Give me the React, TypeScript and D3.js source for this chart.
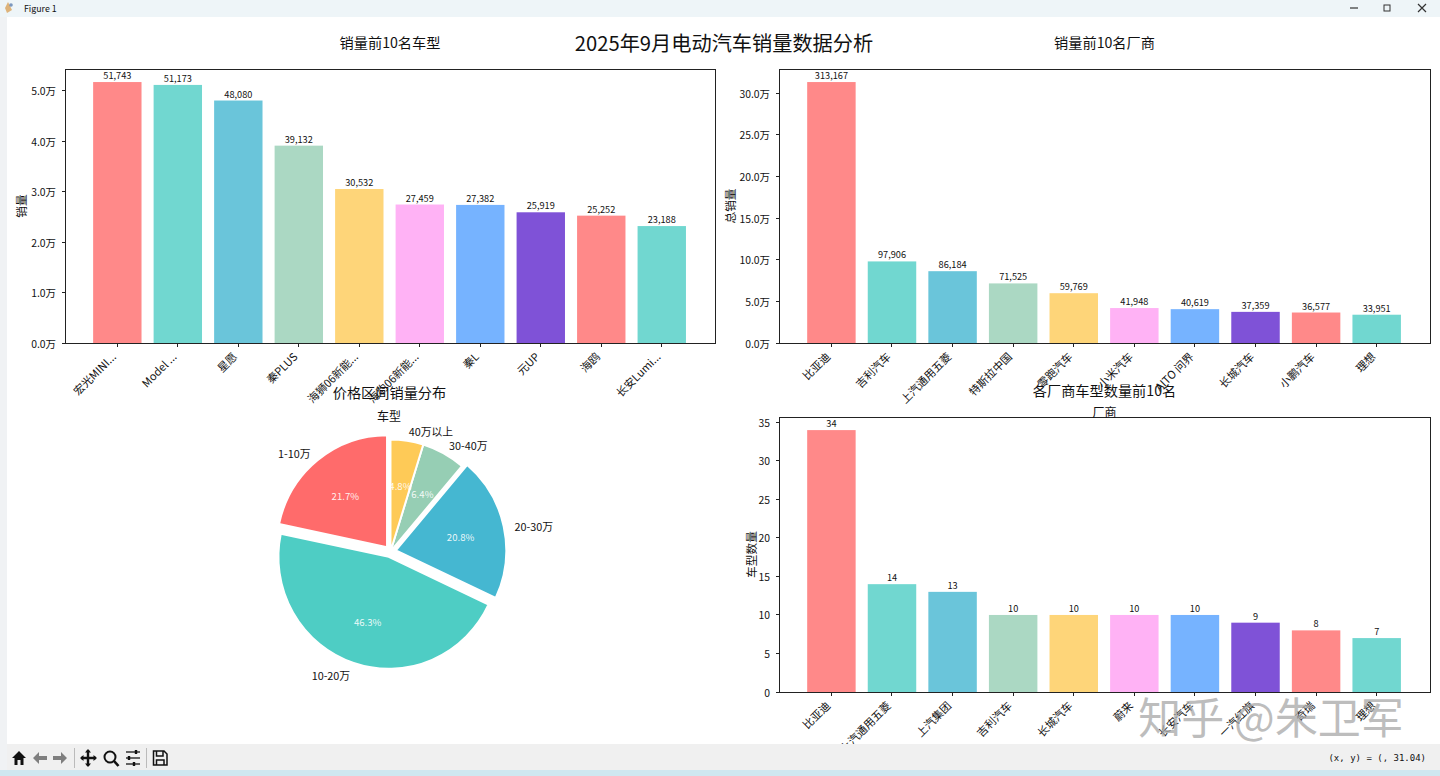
import React from 'react';
import * as d3 from 'd3';

const FONT = '"Noto Sans CJK SC", sans-serif';

// bar colours (alpha 0.8 in the original), the palette repeats after 8 bars
const palette = ['#FF6B6B', '#4ECDC4', '#45B7D1', '#96CEB4', '#FECA57', '#FF9FF3', '#54A0FF', '#5F27CD'];

const modelNames = ['宏光MINI...', 'Model ...', '星愿', '秦PLUS', '海狮06新能...', '海豹06新能...', '秦L', '元UP', '海鸥', '长安Lumi...'];
const modelSales = [51743, 51173, 48080, 39132, 30532, 27459, 27382, 25919, 25252, 23188];
const modelTicks = [0, 10000, 20000, 30000, 40000, 50000];

const makerNames = ['比亚迪', '吉利汽车', '上汽通用五菱', '特斯拉中国', '零跑汽车', '小米汽车', 'AITO 问界', '长城汽车', '小鹏汽车', '理想'];
const makerSales = [313167, 97906, 86184, 71525, 59769, 41948, 40619, 37359, 36577, 33951];
const makerTicks = [0, 50000, 100000, 150000, 200000, 250000, 300000];

const countNames = ['比亚迪', '上汽通用五菱', '上汽集团', '吉利汽车', '长城汽车', '蔚来', '长安汽车', '一汽红旗', '奇瑞', '理想'];
const countValues = [34, 14, 13, 10, 10, 10, 10, 9, 8, 7];
const countTicks = [0, 5, 10, 15, 20, 25, 30, 35];

const priceNames = ['1-10万', '10-20万', '20-30万', '30-40万', '40万以上'];
const priceShare = [21.7, 46.3, 20.8, 6.4, 4.8];
const priceExplode = [0.05, 0.05, 0.05, 0, 0];
const pieColors = ['#FF6B6B', '#4ECDC4', '#45B7D1', '#96CEB4', '#FECA57'];

const wan = (v: number) => `${(v / 10000).toFixed(1)}万`;
const comma = d3.format(',');

interface BarPanelProps {
  left: number;
  right: number;
  top: number;
  bottom: number;
  names: string[];
  values: number[];
  ticks: number[];
  title: string;
  titleY: number;
  xLabel?: string;
  xLabelY?: number;
  yLabel: string;
  yLabelX: number;
  tickFormat: (v: number) => string;
  valueFormat: (v: number) => string;
}

const BarPanel: React.FC<BarPanelProps> = (p) => {
  const x = d3.scaleLinear().domain([-0.865, p.names.length - 1 + 0.88]).range([p.left, p.right]);
  const y = d3.scaleLinear().domain([0, d3.max(p.values)! * 1.05]).range([p.bottom, p.top]);
  const cx = (p.left + p.right) / 2;
  const cy = (p.top + p.bottom) / 2;
  const barW = x(0.8) - x(0);

  return (
    <g fontFamily={FONT} fill="#111">
      <text x={cx} y={p.titleY} fontSize={14.2} textAnchor="middle" dominantBaseline="central">{p.title}</text>
      {p.values.map((v, i) => (
        <g key={i}>
          <rect
            x={x(i) - barW / 2}
            y={y(v)}
            width={barW}
            height={y(0) - y(v)}
            fill={palette[i % palette.length]}
            fillOpacity={0.8}
          />
          <text x={x(i)} y={y(v) - 3} fontSize={9.2} textAnchor="middle">{p.valueFormat(v)}</text>
        </g>
      ))}
      <rect
        x={p.left + 0.5}
        y={p.top + 0.5}
        width={p.right - p.left}
        height={p.bottom - p.top}
        fill="none"
        stroke="#222"
        strokeWidth={1}
        shapeRendering="crispEdges"
      />
      {p.ticks.map((t) => (
        <g key={t}>
          <line x1={p.left - 3.5} x2={p.left} y1={y(t)} y2={y(t)} stroke="#222" shapeRendering="crispEdges" />
          <text x={p.left - 9} y={y(t)} fontSize={10.4} textAnchor="end" dominantBaseline="central">{p.tickFormat(t)}</text>
        </g>
      ))}
      {p.names.map((n, i) => (
        <g key={n + i}>
          <line x1={x(i)} x2={x(i)} y1={p.bottom} y2={p.bottom + 3.5} stroke="#222" shapeRendering="crispEdges" />
          <text
            transform={`translate(${x(i) - 4},${p.bottom + 11}) rotate(-45)`}
            fontSize={11}
            textAnchor="end"
            dominantBaseline="central"
          >
            {n}
          </text>
        </g>
      ))}
      {p.xLabel && (
        <text x={cx} y={p.xLabelY} fontSize={12} textAnchor="middle" dominantBaseline="central">{p.xLabel}</text>
      )}
      <text
        transform={`translate(${p.yLabelX},${cy}) rotate(-90)`}
        fontSize={11.7}
        textAnchor="middle"
        dominantBaseline="central"
      >
        {p.yLabel}
      </text>
    </g>
  );
};

const PricePie: React.FC = () => {
  const cx = 390.5;
  const cy = 551.5;
  const r = 112;
  const squeeze = 0.985; // the screenshot is very slightly narrower than tall
  const slices = d3.pie<number>().sort(null).startAngle(0).endAngle(-2 * Math.PI)(priceShare);
  const arc = d3.arc<d3.PieArcDatum<number>>().innerRadius(0).outerRadius(r);

  return (
    <g fontFamily={FONT}>
      <text x={389.5} y={392} fontSize={14.2} textAnchor="middle" dominantBaseline="central" fill="#111">价格区间销量分布</text>
      {slices.map((s, i) => {
        const mid = (s.startAngle + s.endAngle) / 2;
        const dx = Math.sin(mid) * squeeze;
        const dy = -Math.cos(mid);
        const off = priceExplode[i] * r;
        return (
          <g key={priceNames[i]}>
            <path
              d={arc({ ...s, startAngle: Math.min(s.startAngle, s.endAngle), endAngle: Math.max(s.startAngle, s.endAngle) }) || ''}
              transform={`translate(${cx + dx * off},${cy + dy * off}) scale(${squeeze},1)`}
              fill={pieColors[i]}
              stroke="#fff"
              strokeWidth={2}
            />
            <text
              x={cx + dx * (off + r * 1.1)}
              y={cy + dy * (off + r * 1.1) + 1.5}
              fontSize={10.8}
              fill="#111"
              textAnchor={dx > 0 ? 'start' : 'end'}
              dominantBaseline="central"
            >
              {priceNames[i]}
            </text>
            <text
              x={cx + dx * (off + r * 0.6)}
              y={cy + dy * (off + r * 0.6) + 1}
              fontSize={9.6}
              fill="#fff"
              fillOpacity={0.9}
              textAnchor="middle"
              dominantBaseline="central"
            >
              {priceShare[i].toFixed(1)}%
            </text>
          </g>
        );
      })}
      <text x={389} y={415} fontSize={12} textAnchor="middle" dominantBaseline="central" fill="#111">车型</text>
    </g>
  );
};

const WindowChrome: React.FC = () => (
  <g fontFamily={FONT}>
    <rect x={0} y={0} width={1440} height={17} fill="#eef5f8" />
    <rect x={0} y={17} width={7} height={759} fill="#f0f2f4" />
    <text x={24} y={8.5} fontSize={8.8} fill="#111" dominantBaseline="central">Figure 1</text>
    <path d="M8 2 L12 10 L7 13 L5 8 Z" fill="#d9a35a" fillOpacity={0.8} />
    <circle cx={11} cy={5} r={1.8} fill="#4a6fa5" fillOpacity={0.7} />
    <path d="M1350 8 H1358" stroke="#333" strokeWidth={1.2} />
    <rect x={1384} y={5} width={6} height={6} fill="none" stroke="#333" />
    <path d="M1418 4 L1426 12 M1426 4 L1418 12" stroke="#333" strokeWidth={1.2} />
    {/* toolbar */}
    <rect x={7} y={744} width={1433} height={26} fill="#f0f0f0" />
    <rect x={0} y={770} width={1440} height={6} fill="#cfe7f0" />
    <path d="M12 758 L19 751 L26 758 H23.5 V765 H20.5 V760 H17.5 V765 H14.5 V758 Z" fill="#111" />
    <path d="M33 758 L39 752 V756 H47 V760 H39 V764 Z" fill="#7f7f7f" />
    <path d="M67 758 L61 752 V756 H53 V760 H61 V764 Z" fill="#7f7f7f" />
    <path d="M74.5 748 V768" stroke="#bbb" />
    <path d="M88 750 V766 M81 758 H96" stroke="#111" strokeWidth={2.4} />
    <path d="M88 749 L91 752.5 H85 Z M88 767 L91 763.5 H85 Z M80 758 L83.5 755 V761 Z M97 758 L93.5 755 V761 Z" fill="#111" />
    <circle cx={110} cy={757} r={5.5} fill="none" stroke="#111" strokeWidth={2} />
    <path d="M114 761 L118.5 766" stroke="#111" strokeWidth={2.6} />
    <path d="M126 752 H140 M126 758 H140 M126 764 H140" stroke="#333" strokeWidth={1.5} />
    <path d="M136 750 V754 M129 756 V760 M134 762 V766" stroke="#111" strokeWidth={2.4} />
    <path d="M146.5 748 V768" stroke="#bbb" />
    <path d="M153.5 751 H164 L167 754 V765 H153.5 Z M156.5 751 V756 H163 V751 M156.5 765 V760 H164 V765" fill="none" stroke="#111" strokeWidth={1.5} />
    <text x={1426} y={758} fontSize={9} fontFamily='"DejaVu Sans Mono", monospace' textAnchor="end" fill="#111" dominantBaseline="central">(x, y) = (, 31.04)</text>
  </g>
);

const App: React.FC = () => (
  <div style={{ position: 'fixed', left: 0, top: 0, width: 1440, height: 776, background: '#fff' }}>
    <svg width={1440} height={776} style={{ display: 'block' }}>
      <rect width={1440} height={776} fill="#fff" />
      <BarPanel
        left={65}
        right={715}
        top={69}
        bottom={343}
        names={modelNames}
        values={modelSales}
        ticks={modelTicks}
        title="销量前10名车型"
        titleY={42}
        yLabel="销量"
        yLabelX={20}
        tickFormat={wan}
        valueFormat={comma}
      />
      <BarPanel
        left={779}
        right={1430}
        top={69}
        bottom={343}
        names={makerNames}
        values={makerSales}
        ticks={makerTicks}
        title="销量前10名厂商"
        titleY={42}
        yLabel="总销量"
        yLabelX={729}
        tickFormat={wan}
        valueFormat={comma}
      />
      <PricePie />
      <BarPanel
        left={779}
        right={1430}
        top={417}
        bottom={692}
        names={countNames}
        values={countValues}
        ticks={countTicks}
        title="各厂商车型数量前10名"
        titleY={390}
        xLabel="厂商"
        xLabelY={411}
        yLabel="车型数量"
        yLabelX={750}
        tickFormat={(v) => String(v)}
        valueFormat={(v) => String(v)}
      />
      <text x={724} y={42} fontFamily={FONT} fontSize={20.2} textAnchor="middle" dominantBaseline="central" fill="#111">
        2025年9月电动汽车销量数据分析
      </text>
      <text
        x={1271}
        y={715}
        fontFamily={FONT}
        fontSize={43}
        textAnchor="middle"
        dominantBaseline="central"
        fill="#a8a8a8"
        fillOpacity={0.75}
      >
        知乎 @朱卫军
      </text>
      <WindowChrome />
    </svg>
  </div>
);

export default App;
